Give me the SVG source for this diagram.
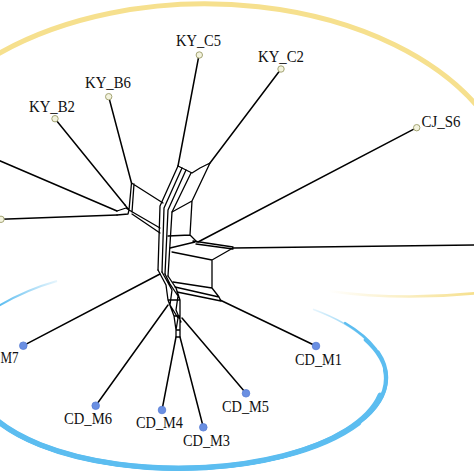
<svg xmlns="http://www.w3.org/2000/svg" width="474" height="474" viewBox="0 0 474 474">
<defs>
<linearGradient id="gBlueTip" gradientUnits="userSpaceOnUse" x1="312" y1="305" x2="372" y2="345">
<stop offset="0" stop-color="#5cbdf0" stop-opacity="0.1"/>
<stop offset="1" stop-color="#5cbdf0" stop-opacity="1"/>
</linearGradient>
<linearGradient id="gBlueLeft" gradientUnits="userSpaceOnUse" x1="0" y1="305" x2="57" y2="281">
<stop offset="0" stop-color="#5cbdf0" stop-opacity="1"/>
<stop offset="1" stop-color="#5cbdf0" stop-opacity="0.15"/>
</linearGradient>
<linearGradient id="gYellowTail" gradientUnits="userSpaceOnUse" x1="328" y1="292" x2="474" y2="294">
<stop offset="0" stop-color="#f6e08e" stop-opacity="0"/>
<stop offset="1" stop-color="#f6e08e" stop-opacity="1"/>
</linearGradient>
<style>
.net{fill:none;stroke:#000;stroke-width:1.3;stroke-linejoin:round;stroke-linecap:round}
.leaf{fill:none;stroke:#000;stroke-width:1.5;stroke-linecap:round}
.ky{fill:#f3f3de;stroke:#a4a474;stroke-width:1}
.cd{fill:#6a8fe2;stroke:#5b7fd6;stroke-width:0.8}
.lbl{font-family:"Liberation Serif","Times New Roman",serif;font-size:16px;fill:#111}
.blue{fill:none;stroke:#5cbdf0;stroke-linecap:round}
</style>
</defs>
<rect width="474" height="474" fill="#fff"/>

<g id="groups">
<path d="M -5,55.7 A 310 196 0 0 1 480,109.5" fill="none" stroke="#f6e08e" stroke-width="5"/>
<path d="M 328,291 Q 400,301 478,293" fill="none" stroke="url(#gYellowTail)" stroke-width="2.6"/>
<path d="M 313,309.3 A 206 90 0 0 1 386,378" fill="none" stroke="url(#gBlueTip)" stroke-width="1.6"/>
<path class="blue" d="M 345,323 A 206 90 0 0 1 386,378" stroke-width="2.2"/>
<path class="blue" d="M 365,340 A 206 90 0 0 1 386,378" stroke-width="2.8"/>
<path class="blue" d="M 378,352 A 206 90 0 0 1 358.4,423 A 206 90 0 0 1 -8,416" stroke-width="3.4"/>
<path class="blue" d="M 385,370 A 206 90 0 0 1 358.4,423 A 206 90 0 0 1 -8,416" stroke-width="4"/>
<path class="blue" d="M 380,395 A 206 90 0 0 1 283,455.9 A 206 90 0 0 1 -8,416" stroke-width="4.7"/>
<path class="blue" d="M 358.4,423 A 206 90 0 0 1 283,455.9 A 206 90 0 0 1 -8,416" stroke-width="5.4"/>
<path d="M -5,308 Q 25,290 57,281" fill="none" stroke="url(#gBlueLeft)" stroke-width="2"/>
</g>

<g id="connectors">
<path class="leaf" d="M199,55 L178,166 M281,69 L210,163 M108.7,96.7 L131.5,183 M55,118.7 L125,205 M-2,160 L117,211 M1,219.3 L117,215 M416.7,127.7 L198,242 M476,245 L233,248 M316,346 L220,300 M246,393.3 L182,318 M203.3,427.3 L180,337 M162,410 L176,337 M95.7,405.7 L168,305 M23.3,345.7 L160,274"/>
<path class="net" d="M178,166 L192,173 L200,168 L210,163 L192,201 L172,212 M192,201 L190,235 L197,242 M168,236 L190,235"/>
<path class="net" d="M178,166 L160,206 L158,270 M182,168 L164,208 L162,272 M186,170 L168,210 L165,274 M191,173 L172,212 L168,276"/>
<path class="net" d="M131.5,183 L163,203 M131.5,183 L129,210 M134,184 L132,212 M117,211 L126,208 L129,210 L128,214 L117,215 M125,205 L129,210 M129,210 L160,228 M132,214 L160,233"/>
<path class="net" d="M170,248 L195,242 M193,241 L233,247 M196,244 L233,249 M233,248 L212,260 L212,288 L219,297 L221,301 M172,252 L212,260 M173,282 L212,288 M175,287 L219,297 M177,292 L221,301"/>
<path class="net" d="M158,270 L166,285 L168,300 L174,316 L176,330 L176,337 L180,337 L180,330 L180,316 L180,300 L176,288 L168,276 M162,272 L172,290 L170,305 L178,318 L176,330 M165,274 L170,284 L178,296 L176,310 L181,322 M168,300 L180,300 M174,316 L180,316 M176,330 L180,330"/>
</g>

<g id="KY_C5"><circle class="ky" cx="199.3" cy="55" r="3.2"/><text class="lbl" x="176" y="46" textLength="45" lengthAdjust="spacingAndGlyphs">KY_C5</text></g>
<g id="KY_C2"><circle class="ky" cx="281" cy="69" r="3.2"/><text class="lbl" x="258" y="61.5" textLength="46" lengthAdjust="spacingAndGlyphs">KY_C2</text></g>
<g id="KY_B6"><circle class="ky" cx="108.7" cy="96.7" r="3.2"/><text class="lbl" x="85" y="88" textLength="46" lengthAdjust="spacingAndGlyphs">KY_B6</text></g>
<g id="KY_B2"><circle class="ky" cx="55" cy="118.7" r="3.2"/><text class="lbl" x="29" y="112" textLength="46" lengthAdjust="spacingAndGlyphs">KY_B2</text></g>
<g id="CJ_S6"><circle class="ky" cx="416.7" cy="127.7" r="3.2"/><text class="lbl" x="421.5" y="127" textLength="39" lengthAdjust="spacingAndGlyphs">CJ_S6</text></g>
<g id="left_leaf"><circle class="ky" cx="1" cy="219.3" r="3.2"/></g>
<g id="CD_M7"><circle class="cd" cx="23.3" cy="345.7" r="3.8"/><text class="lbl" x="0.5" y="363" textLength="18" lengthAdjust="spacingAndGlyphs">M7</text></g>
<g id="CD_M1"><circle class="cd" cx="316" cy="346" r="3.8"/><text class="lbl" x="295" y="365" textLength="47" lengthAdjust="spacingAndGlyphs">CD_M1</text></g>
<g id="CD_M5"><circle class="cd" cx="246" cy="393.3" r="3.8"/><text class="lbl" x="222" y="411.5" textLength="47" lengthAdjust="spacingAndGlyphs">CD_M5</text></g>
<g id="CD_M6"><circle class="cd" cx="95.7" cy="405.7" r="3.8"/><text class="lbl" x="64" y="423.5" textLength="48" lengthAdjust="spacingAndGlyphs">CD_M6</text></g>
<g id="CD_M4"><circle class="cd" cx="162" cy="410" r="3.8"/><text class="lbl" x="136" y="428" textLength="47" lengthAdjust="spacingAndGlyphs">CD_M4</text></g>
<g id="CD_M3"><circle class="cd" cx="203.3" cy="427.3" r="3.8"/><text class="lbl" x="183" y="446" textLength="47" lengthAdjust="spacingAndGlyphs">CD_M3</text></g>
</svg>
